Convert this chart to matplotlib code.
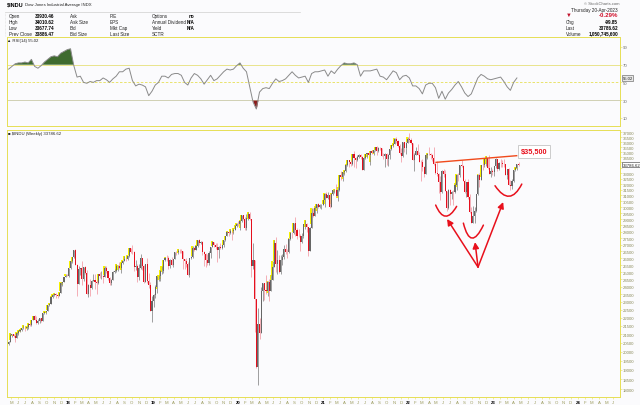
import numpy as np
import pandas as pd
import matplotlib
matplotlib.use("Agg")
import matplotlib.pyplot as plt
import matplotlib.dates as mdates
from matplotlib.ticker import FixedLocator, FixedFormatter, NullLocator, NullFormatter

plt.rcParams['font.family'] = ['Liberation Sans', 'DejaVu Sans']

# ---------------- data (weekly $INDU, week ending Fridays) ----------------
first_week = "2017-04-21"

opens = [
    # 2017
    20453, 20548, 20941, 21007, 20897, 20805, 21080, 21206, 21272, 21384, 21395, 21350, 21414, 21638, 21580, 21830,
    22092, 21858, 21675, 21814, 21988, 21797, 22268, 22350, 22405, 22774, 22871, 23329, 23434, 23539, 23422, 23358,
    23558, 24231, 24329, 24652, 24754,
    # 2018
    24719, 25296, 25803, 26072, 26616, 25521, 24190, 25219, 25310, 24538, 25336, 24946, 23533, 24103, 23933, 24360,
    24463, 24311, 24263, 24831, 24715, 24753, 24635, 25317, 25090, 24581, 24271, 24456, 25019, 25058, 25451, 25463,
    25313, 25669, 25790, 25965, 25917, 26154, 26743, 26458, 26447, 25340, 25444, 24688, 25270, 25989, 25413, 24286,
    25538, 24389, 24100, 22445,
    # 2019
    23062, 23433, 23996, 24706, 24737, 25064, 25106, 25883, 26031, 26026, 25450, 25849, 25502, 25929, 26425, 26412,
    26559, 26543, 26505, 25942, 25764, 25586, 24815, 25984, 26090, 26719, 26600, 26922, 27332, 27154, 27192, 26485,
    26287, 25886, 25629, 26403, 26797, 27220, 26935, 26820, 26573, 26817, 26770, 26958, 27347, 27681, 28005, 27876,
    28051, 28015, 28135, 28455,
    # 2020
    28645, 28635, 28824, 29348, 28990, 28256, 29102, 29398, 28992, 25409, 25864, 23186, 19174, 21637, 21053, 23719,
    24242, 23775, 23724, 24331, 23685, 24465, 25383, 27111, 25605, 25871, 25016, 25827, 26075, 26672, 26470, 26428,
    27433, 27931, 27930, 28654, 28133, 27666, 27657, 27174, 27683, 28587, 28606, 28336, 26502, 28323, 29480, 29263,
    29910, 30218, 30046, 30179, 30200,
    # 2021
    30606, 31098, 30814, 30997, 29983, 31148, 31458, 31494, 30932, 31496, 32779, 32628, 33072, 33153, 33801, 34200,
    34043, 33875, 34778, 34382, 34208, 34529, 34756, 34480, 33290, 34433, 34786, 34870, 34688, 35062, 34935, 35209,
    35515, 35120, 35456, 35369, 34608, 34584, 34798, 34326, 34746, 35295, 35677, 35820, 36328, 36100, 35602, 34899,
    34580, 35971, 35365, 35950,
    # 2022
    36338, 36232, 35912, 34265, 34725, 35089, 34738, 34079, 34059, 33615, 32944, 34754, 34861, 34818, 34721, 34451,
    33811, 32977, 32899, 32197, 31262, 33213, 32900, 31393, 29889, 31501, 31097, 31338, 31288, 31899, 32845, 32803,
    33761, 33707, 32283, 31318, 32151, 30822, 29590, 28726, 29297, 29635, 31083, 32862, 32403, 33748, 33746, 34347,
    34430, 33477, 32920, 33204,
    # 2023
    33147, 33631, 34303, 33375, 33978, 33926, 33870, 33827, 32817, 33391, 31910, 31862, 32238, 33274, 33485, 33886,
]

highs = [
    # 2017
    20610, 21070, 21033, 21034, 21010, 21112, 21225, 21305, 21392, 21535, 21455, 21480, 21681, 21681, 21843, 22092,
    22179, 22084, 21908, 21988, 21995, 22275, 22419, 22416, 22777, 22905, 23368, 23485, 23557, 23602, 23458, 23617,
    24328, 24330, 24669, 24876, 24872,
    # 2018
    25299, 25804, 26086, 26617, 26646, 25540, 25432, 25310, 25800, 25336, 25450, 25160, 24150, 24540, 24480, 24858,
    24858, 24455, 24840, 24990, 25086, 24810, 25402, 25400, 25090, 24650, 24490, 25050, 25216, 25552, 25495, 25692,
    25710, 25885, 26170, 26000, 26200, 26769, 26769, 26951, 26512, 25830, 25562, 25555, 26277, 26001, 25484, 25538,
    25980, 24950, 24315, 23381,
    # 2019
    23518, 24080, 24750, 24800, 25170, 25440, 25883, 26050, 26242, 26155, 25900, 26110, 25970, 26430, 26500, 26639,
    26696, 26670, 26520, 25960, 26000, 25700, 25985, 26175, 26907, 26810, 26966, 27333, 27400, 27270, 27300, 26500,
    26400, 26270, 26500, 26850, 27300, 27220, 27100, 27100, 26900, 27120, 27000, 27350, 27700, 28036, 28090, 28175,
    28070, 28290, 28500, 28702,
    # 2020
    28872, 28960, 29373, 29373, 29175, 29409, 29568, 29568, 29000, 27102, 25864, 23186, 22595, 22000, 24008, 24264,
    24242, 24765, 24370, 24533, 24769, 25759, 27338, 27580, 26616, 26200, 26200, 26300, 27000, 27050, 26700, 27500,
    28000, 28000, 28660, 29199, 28300, 28200, 27800, 27900, 28600, 28958, 28700, 28340, 28400, 29933, 29964, 30116,
    30220, 30320, 30300, 30300, 30637,
    # 2021
    31193, 31271, 31272, 31100, 31200, 31500, 31600, 32010, 31700, 32800, 33227, 33100, 33260, 33830, 34257, 34256,
    34200, 34811, 35091, 34500, 34700, 34850, 34850, 34600, 34500, 34800, 34900, 35000, 35100, 35171, 35250, 35530,
    35631, 35500, 35500, 35450, 34900, 34900, 34900, 34800, 35300, 35700, 35900, 36430, 36500, 36200, 35800, 35400,
    36000, 36000, 35960, 36500,
    # 2022
    36953, 36400, 35930, 34900, 35500, 35800, 35000, 34200, 34300, 33700, 34800, 34900, 35492, 34900, 34800, 35500,
    34000, 34100, 33000, 32700, 33300, 33400, 33300, 31400, 31550, 31520, 31400, 31500, 32100, 32900, 33000, 33800,
    34281, 33800, 32500, 32200, 32500, 31100, 30000, 30100, 30000, 31100, 32900, 33000, 33800, 33990, 34360, 34600,
    34450, 34712, 33600, 33400,
    # 2023
    33700, 34400, 34342, 34000, 34335, 34200, 34300, 33900, 33400, 33500, 32400, 32500, 33300, 33600, 33900, 34010,
]

lows = [
    # 2017
    20380, 20548, 20843, 20860, 20553, 20805, 20983, 21105, 21195, 21328, 21197, 21255, 21282, 21480, 21493, 21830,
    21843, 21600, 21600, 21673, 21709, 21797, 22240, 22220, 22405, 22740, 22850, 23242, 23377, 23250, 23242, 23358,
    23558, 24067, 24329, 24652, 24698,
    # 2018
    24660, 25200, 25640, 26038, 25490, 23360, 24190, 24800, 24119, 24400, 24835, 23510, 23344, 23345, 23810, 24360,
    23850, 23532, 24200, 24600, 24500, 24250, 24635, 24950, 24460, 24084, 24110, 24456, 24950, 24996, 25050, 25250,
    24965, 25600, 25790, 25794, 25870, 26050, 26350, 26300, 25042, 25160, 24285, 24443, 25234, 25160, 24268, 24286,
    24242, 23881, 22397, 21713,
    # 2019
    22638, 23250, 23580, 24350, 24380, 24880, 24950, 25780, 25800, 25208, 25300, 25480, 25350, 25929, 26230, 26300,
    26350, 26340, 25220, 25200, 25330, 24800, 24680, 25900, 26000, 26500, 26600, 26800, 27000, 27050, 26200, 25440,
    25340, 25500, 25480, 26000, 26790, 26850, 26700, 25740, 26000, 26700, 26700, 26850, 27300, 27650, 27700, 27850,
    27325, 27780, 28100, 28400,
    # 2020
    28410, 28170, 28800, 28900, 28170, 28170, 28900, 28950, 24681, 25226, 21154, 19100, 18213, 20735, 21053, 23050,
    23092, 23490, 23360, 23032, 23685, 24465, 25383, 25000, 24843, 24970, 24900, 25500, 25900, 26300, 26000, 26400,
    27350, 27500, 27850, 27664, 27400, 27550, 26537, 27100, 27500, 28200, 28000, 26143, 26500, 28300, 29200, 29263,
    29500, 29900, 29900, 29800, 30200,
    # 2021
    30000, 30800, 30700, 29900, 29983, 31000, 31200, 30900, 30550, 31400, 32400, 32300, 32800, 33100, 33650, 33600,
    33700, 33800, 33600, 33473, 34100, 34400, 34300, 33250, 33290, 34300, 34400, 34600, 33741, 34800, 34700, 35100,
    34700, 35050, 35200, 34600, 34300, 33613, 33800, 33700, 34300, 35200, 35500, 35800, 35900, 35500, 34800, 34006,
    34500, 35000, 34800, 35900,
    # 2022
    36000, 35800, 34200, 33150, 34700, 34700, 34000, 32272, 33200, 32632, 32900, 34300, 34700, 34300, 34100, 33800,
    32900, 32700, 31200, 30636, 31200, 32600, 31350, 29653, 29850, 30200, 30700, 30143, 31200, 31500, 32300, 32600,
    33600, 32280, 31200, 30900, 30700, 29500, 28715, 28700, 28660, 29600, 31000, 31700, 32400, 33300, 33600, 33700,
    33400, 32900, 32600, 32800,
    # 2023
    32700, 33500, 33200, 33250, 33600, 33600, 33600, 32800, 32500, 31900, 31430, 31600, 32200, 33200, 33300, 33678,
]

closes = [
    # 2017
    20548, 20941, 21007, 20897, 20805, 21080, 21206, 21272, 21384, 21395, 21350, 21414, 21638, 21580, 21830, 22092,
    21858, 21675, 21814, 21988, 21797, 22268, 22350, 22405, 22774, 22871, 23329, 23434, 23539, 23422, 23358, 23558,
    24231, 24329, 24652, 24754, 24719,
    # 2018
    25296, 25803, 26072, 26616, 25521, 24190, 25219, 25310, 24538, 25336, 24946, 23533, 24103, 23933, 24360, 24463,
    24311, 24263, 24831, 24715, 24753, 24635, 25317, 25090, 24581, 24271, 24456, 25019, 25058, 25451, 25463, 25313,
    25669, 25790, 25965, 25917, 26154, 26743, 26458, 26447, 25340, 25444, 24688, 25270, 25989, 25413, 24286, 25538,
    24389, 24100, 22445, 23062,
    # 2019
    23433, 23996, 24706, 24737, 25064, 25106, 25883, 26031, 26026, 25450, 25849, 25502, 25929, 26425, 26412, 26559,
    26543, 26505, 25942, 25764, 25586, 24815, 25984, 26090, 26719, 26600, 26922, 27332, 27154, 27192, 26485, 26287,
    25886, 25629, 26403, 26797, 27220, 26935, 26820, 26573, 26817, 26770, 26958, 27347, 27681, 28005, 27876, 28051,
    28015, 28135, 28455, 28645,
    # 2020
    28635, 28824, 29348, 28990, 28256, 29102, 29398, 28992, 25409, 25864, 23186, 19174, 21637, 21053, 23719, 24242,
    23775, 23724, 24331, 23685, 24465, 25383, 27111, 25605, 25871, 25016, 25827, 26075, 26672, 26470, 26428, 27433,
    27931, 27930, 28654, 28133, 27666, 27657, 27174, 27683, 28587, 28606, 28336, 26502, 28323, 29480, 29263, 29910,
    30218, 30046, 30179, 30200, 30606,
    # 2021
    31098, 30814, 30997, 29983, 31148, 31458, 31494, 30932, 31496, 32779, 32628, 33072, 33153, 33801, 34200, 34043,
    33875, 34778, 34382, 34208, 34529, 34756, 34480, 33290, 34433, 34786, 34870, 34688, 35062, 34935, 35209, 35515,
    35120, 35456, 35369, 34608, 34584, 34798, 34326, 34746, 35295, 35677, 35820, 36328, 36100, 35602, 34899, 34580,
    35971, 35365, 35950, 36338,
    # 2022
    36232, 35912, 34265, 34725, 35089, 34738, 34079, 34059, 33615, 32944, 34754, 34861, 34818, 34721, 34451, 33811,
    32977, 32899, 32197, 31262, 33213, 32900, 31393, 29889, 31501, 31097, 31338, 31288, 31899, 32845, 32803, 33761,
    33707, 32283, 31318, 32151, 30822, 29590, 28726, 29297, 29635, 31083, 32862, 32403, 33748, 33746, 34347, 34430,
    33477, 32920, 33204, 33147,
    # 2023
    33631, 34303, 33375, 33978, 33926, 33870, 33827, 32817, 33391, 31910, 31862, 32238, 33274, 33485, 33886, 33786.62,
]

# RSI(14) read every second week
rsi_values = [
    65, 68, 71, 72, 72, 73, 72, 76, 68, 66, 69, 73, 76, 79, 80, 79, 83, 85, 87, 88,
    69, 56, 57, 50, 49, 51, 50, 52, 52, 55, 53, 50, 54, 57, 62, 62, 65, 66, 52, 46,
    48, 47, 45, 35, 40, 47, 50, 57, 57, 55, 59, 60, 60, 58, 50, 47, 55, 60, 58, 54,
    48, 53, 58, 52, 54, 58, 62, 65, 64, 65, 69, 72, 66, 62, 45, 28, 20, 39, 43, 44,
    43, 49, 54, 51, 52, 54, 58, 62, 58, 55, 56, 57, 50, 60, 62, 62, 63, 64, 57, 63,
    60, 65, 69, 72, 71, 71, 72, 70, 57, 63, 63, 63, 64, 65, 57, 56, 53, 58, 63, 61,
    53, 57, 58, 55, 46, 46, 43, 37, 47, 49, 49, 44, 32, 40, 31, 38, 42, 47, 51, 45,
    38, 34, 37, 46, 55, 59, 57, 54, 53, 54, 55, 56, 51, 45, 41, 50, 55,
]

price_ticks = list(range(18000, 37001, 500))
rsi_ticks = [10, 30, 50, 70, 90]
last_price = 33786.62
last_rsi = 55.02

# annotation (hand-drawn) shapes, in date / price
neck_start = ("2022-05-02", 34011)
neck_end = ("2023-04-13", 34650)
target_label = ("2023-06-27", 35060, "$35,500")
arcs = [(("2022-04-30", 30170), ("2022-07-29", 30060), 1.0),
        (("2022-08-27", 28680), ("2022-11-21", 28520), 1.4),
        (("2023-01-10", 31850), ("2023-05-05", 32000), 0.85)]
arrow_base = ("2022-10-29", 25350)
arrow_tips = [("2022-06-18", 29010), ("2022-10-16", 27190), ("2023-02-14", 30425)]

# ---------------- figure ----------------
W, H = 640, 406
BG = "#fbfbfd"
YEL = "#e6df55"
fig = plt.figure(figsize=(W / 100, H / 100), dpi=100, facecolor=BG)


def fx(x):
    return x / W


def fy(y):
    return 1 - y / H


def D(s):
    return mdates.datestr2num(s)


ax_r = fig.add_axes([fx(7), fy(127), fx(620) - fx(7), fy(38) - fy(127)], facecolor=BG)
ax = fig.add_axes([fx(7), fy(398), fx(620) - fx(7), fy(131) - fy(398)], facecolor=BG)

dates = pd.date_range(first_week, periods=len(closes), freq="7D")
x = mdates.date2num(dates)
o = np.array(opens, float)
h = np.array(highs, float)
l = np.array(lows, float)
c = np.array(closes, float)
up = c >= o

xmin, xmax = D("2017-04-14"), D("2024-06-30")
for a in (ax, ax_r):
    a.set_xlim(xmin, xmax)
    for s in a.spines.values():
        s.set_color(YEL)
        s.set_linestyle((0, (1, 1)))
        s.set_linewidth(0.7)

# --- price candles ---
prev_max = pd.Series(c).shift(1).rolling(6, min_periods=1).max().values
hot = up & (c >= prev_max)
ax.bar(x[hot] - 1.5, (h - l)[hot] * 0.8, bottom=(l + (h - l) * 0.2)[hot], width=8.0, color="#f6f000",
       lw=0, zorder=1)
ax.vlines(x[up], l[up], h[up], color="#858585", lw=0.55, zorder=2)
ax.vlines(x[~up], l[~up], h[~up], color="#f29aa3", lw=0.55, zorder=2)
ax.bar(x[up], np.maximum((c - o)[up], 1), bottom=o[up], width=4.6, color="#666666", lw=0, zorder=3)
ax.bar(x[~up], (o - c)[~up], bottom=c[~up], width=4.6, color="#e5101e", lw=0, zorder=3)

ax.set_yscale("log")
ax.set_ylim(17610, 37240)
ax.yaxis.tick_right()
ax.yaxis.set_major_locator(FixedLocator(price_ticks))
# the boxed last-price label covers the two ticks beside it
ax.yaxis.set_major_formatter(FixedFormatter(
    ["" if abs(v - last_price) < 400 else str(v) for v in price_ticks]))
ax.yaxis.set_minor_locator(NullLocator())
ax.yaxis.set_minor_formatter(NullFormatter())
ax.tick_params(axis="y", labelsize=3.1, length=1.2, width=0.4, color=YEL, pad=1, labelcolor="#8a8a5a")

months = pd.date_range("2017-05-01", "2024-06-01", freq="MS")
ax.xaxis.set_major_locator(FixedLocator(mdates.date2num(months)))
ax.xaxis.set_major_formatter(FixedFormatter(
    [f"{d.year % 100:02d}" if d.month == 1 else "JFMAMJJASOND"[d.month - 1] for d in months]))
ax.tick_params(axis="x", labelsize=3.1, length=1.2, width=0.4, color=YEL, pad=1)
for t, d in zip(ax.get_xticklabels(), months):
    if d.month == 1:
        t.set_color("black")
        t.set_fontweight("bold")
    else:
        t.set_color("#9a9a5a")

ax.text(1.004, last_price, f"{last_price:.2f}", transform=ax.get_yaxis_transform(), fontsize=3.1,
        va="center", ha="left", color="#222", clip_on=False, zorder=10,
        bbox=dict(boxstyle="square,pad=0.15", fc="white", ec="#333", lw=0.4))

# --- annotations ---
ax.plot([D(neck_start[0]), D(neck_end[0])], [neck_start[1], neck_end[1]], color="#f04a1c", lw=1.0, zorder=5)
ax.text(D(target_label[0]), target_label[1], target_label[2], color="#e8101c", fontsize=5.3,
        fontweight="bold", ha="center", va="center", zorder=6,
        bbox=dict(boxstyle="square,pad=0.35", fc="white", ec="#c4c4c4", lw=0.6))
for (d0, p0), (d1, p1), rad in arcs:
    ax.annotate("", xy=(D(d1), p1), xytext=(D(d0), p0),
                arrowprops=dict(arrowstyle="-", color="#e8101c", lw=1.1, shrinkA=0, shrinkB=0,
                                connectionstyle=f"arc3,rad={rad}"), zorder=6)
for d, p in arrow_tips:
    ax.annotate("", xy=(D(d), p), xytext=(D(arrow_base[0]), arrow_base[1]),
                arrowprops=dict(arrowstyle="-|>,head_length=0.55,head_width=0.28", color="#e8101c",
                                lw=1.1, shrinkA=0, shrinkB=0, mutation_scale=6.5), zorder=6)

# --- RSI panel ---
rsi = np.array(rsi_values, float)
rx = x[::2][:len(rsi)]
ax_r.fill_between(rx, 70, rsi, where=rsi >= 70, interpolate=True, color="#3f6b2f", lw=0, zorder=2)
ax_r.fill_between(rx, 30, rsi, where=rsi <= 30, interpolate=True, color="#8b1c1c", lw=0, zorder=2)
ax_r.axhline(70, color="#e6e07a", lw=0.6, zorder=1)
ax_r.axhline(30, color="#c9c9a8", lw=0.6, zorder=1)
ax_r.axhline(50, color=YEL, lw=0.6, ls=(0, (3, 2)), zorder=1)
ax_r.plot(rx, rsi, color="#8a8a8a", lw=0.7, zorder=3)
ax_r.set_ylim(0.7, 101.3)
ax_r.yaxis.tick_right()
ax_r.yaxis.set_major_locator(FixedLocator(rsi_ticks))
ax_r.yaxis.set_major_formatter(FixedFormatter([str(v) for v in rsi_ticks]))
ax_r.tick_params(axis="y", labelsize=3.1, length=1.2, width=0.4, color=YEL, pad=1, labelcolor="#666")
ax_r.tick_params(axis="x", bottom=False, labelbottom=False)
ax_r.text(1.004, last_rsi, f"{last_rsi:.2f}", transform=ax_r.get_yaxis_transform(), fontsize=3.1,
          va="center", ha="left", color="#222", clip_on=False, zorder=10,
          bbox=dict(boxstyle="square,pad=0.15", fc="#e8e8e8", ec="#555", lw=0.4))

# --- header ---
fs = 3.3
fig.text(fx(7), fy(4.5), "$INDU", fontsize=4.0, fontweight="bold", va="center")
fig.text(fx(25), fy(4.6), "Dow Jones Industrial Average INDX", fontsize=3.1, va="center", color="#222")
fig.add_artist(plt.Line2D([fx(5), fx(300)], [fy(13.3), fy(13.3)], color="#cfcfcf", lw=0.5))
fig.add_artist(plt.Line2D([fx(5), fx(5)], [fy(13.3), fy(37)], color="#dcdcdc", lw=0.5, ls=(0, (1, 1))))

rows_y = [16.3, 22.3, 28.3, 34.0]
col1 = ["Open", "High", "Low", "Prev Close"]
col1v = ["33930.46", "34010.62", "33677.74", "33886.47"]
col2 = ["Ask", "Ask Size", "Bid", "Bid Size"]
col3 = ["P/E", "EPS", "Mkt Cap", "Last Size"]
col4 = ["Options", "Annual Dividend", "Yield", "SCTR"]
col4v = ["no", "N/A", "N/A", ""]
for yy, a1, v1, a2, a3, a4, v4 in zip(rows_y, col1, col1v, col2, col3, col4, col4v):
    fig.text(fx(9), fy(yy), a1, fontsize=fs, va="center", color="#222")
    fig.text(fx(54.5), fy(yy), v1, fontsize=fs, va="center", ha="right", fontweight="bold")
    fig.text(fx(70), fy(yy), a2, fontsize=fs, va="center", color="#222")
    fig.text(fx(110), fy(yy), a3, fontsize=fs, va="center", color="#222")
    fig.text(fx(152), fy(yy), a4, fontsize=fs, va="center", color="#222")
    fig.text(fx(194.5), fy(yy), v4, fontsize=fs, va="center", ha="right", fontweight="bold")

fig.text(fx(620), fy(4.3), "\u00a9 StockCharts.com", fontsize=3.0, va="center", ha="right", color="#666")
fig.text(fx(618), fy(10.3), "Thursday 20-Apr-2023", fontsize=fs, va="center", ha="right", color="#222")
fig.text(fx(566), fy(15.8), "\u25bc", fontsize=4.2, va="center", ha="left", color="#c0102a")
fig.text(fx(618), fy(15.8), "-0.29%", fontsize=4.4, va="center", ha="right", color="#d0102a", fontweight="bold")
for yy, lab, val in zip([22.3, 28.7, 34.0], ["Chg", "Last", "Volume"], ["-99.85", "33786.62", "1,050,745,600"]):
    fig.text(fx(566), fy(yy), lab, fontsize=fs, va="center", ha="left", color="#222")
    fig.text(fx(618), fy(yy), val, fontsize=fs, va="center", ha="right", fontweight="bold")

fig.text(fx(7), fy(41.2), "\u25b2 RSI(14) 55.02", fontsize=3.1, va="center", color="#222")
fig.text(fx(8), fy(134.3), "\u25a0 $INDU (Weekly) 33786.62", fontsize=3.1, va="center", color="#222")

fig.savefig("out.png", dpi=100, facecolor=BG)
